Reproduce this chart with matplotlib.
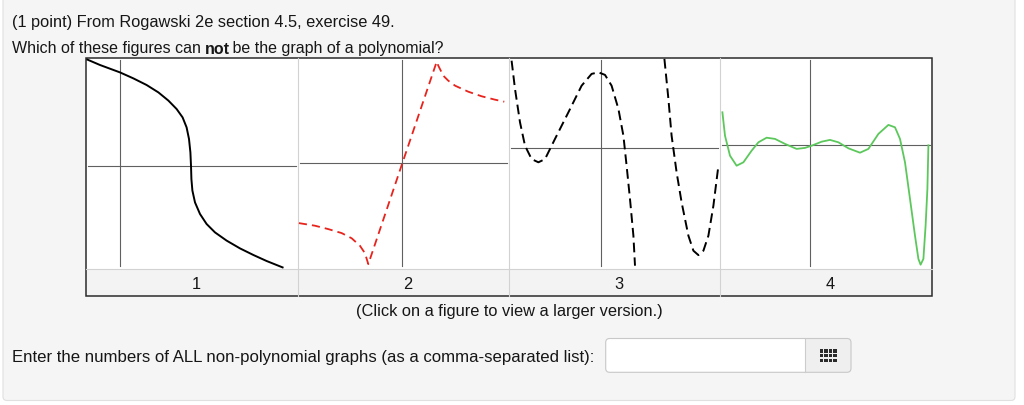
import matplotlib
matplotlib.use("Agg")
import matplotlib.pyplot as plt
from matplotlib.patches import Rectangle, FancyBboxPatch

# ---------------- data ----------------
title_line1 = "(1 point) From Rogawski 2e section 4.5, exercise 49."
title_line2_parts = [("Which of these figures can ", "normal"),
                     ("not", "bold"),
                     (" be the graph of a polynomial?", "normal")]
panel_labels = ["1", "2", "3", "4"]
caption = "(Click on a figure to view a larger version.)"
prompt = "Enter the numbers of ALL non-polynomial graphs (as a comma-separated list):"

# graph 1 (solid black)
g1_x = [-1.63, -1.0, 0.0, 0.67, 1.33, 1.92, 2.42, 2.83, 3.13, 3.33, 3.45, 3.52,
        3.55, 3.57, 3.62, 3.75, 4.0, 4.33, 4.75, 5.33, 6.0, 6.67, 7.33, 8.13]
g1_y = [5.32, 5.05, 4.68, 4.38, 4.05, 3.68, 3.27, 2.85, 2.43, 1.93, 1.35, 0.68,
        0.02, -0.65, -1.23, -1.82, -2.4, -2.9, -3.32, -3.73, -4.12, -4.45, -4.75, -5.07]

# graph 2 (red dashed)
g2_x = [-5.17, -4.37, -3.7, -3.03, -2.53, -2.12, -1.87, -1.7, 0.0, 1.72,
        1.8, 2.05, 2.3, 2.64, 3.3, 3.97, 4.64, 5.1]
g2_y = [-2.99, -3.12, -3.29, -3.49, -3.75, -4.12, -4.49, -5.04, 0.0, 5.08,
        4.88, 4.38, 4.13, 3.88, 3.58, 3.35, 3.18, 3.08]

# graph 3 (black dashed, two branches)
g3a_x = [-4.47, -4.3, -4.05, -3.8, -3.47, -3.13, -2.8, -2.3, -1.63, -0.97,
         -0.47, -0.13, 0.2, 0.53, 0.87, 1.12, 1.28, 1.45, 1.62, 1.7]
g3a_y = [4.38, 2.97, 1.3, 0.13, -0.54, -0.7, -0.54, 0.47, 1.8, 3.13,
         3.72, 3.8, 3.67, 3.13, 1.97, 0.63, -0.87, -2.54, -4.37, -5.87]
g3b_x = [3.17, 3.37, 3.53, 3.78, 4.03, 4.37, 4.62, 4.87, 5.12, 5.37, 5.62, 5.87]
g3b_y = [4.47, 2.47, 0.63, -1.2, -2.7, -4.37, -5.12, -5.34, -5.12, -4.37, -2.87, -0.87]

# graph 4 (green)
g4_x = [-4.38, -4.25, -4.0, -3.67, -3.33, -2.92, -2.58, -2.17, -1.75, -1.25,
        -0.67, -0.25, 0.08, 0.58, 1.0, 1.42, 1.92, 2.5, 2.92, 3.42, 3.92,
        4.25, 4.5, 4.75, 5.0, 5.25, 5.42, 5.53, 5.67, 5.78, 5.87, 5.92]
g4_y = [1.65, 0.48, -0.52, -1.02, -0.85, -0.27, 0.15, 0.38, 0.32, 0.07,
        -0.18, -0.13, -0.02, 0.18, 0.27, 0.15, -0.15, -0.37, -0.18, 0.57, 1.02,
        0.9, 0.32, -0.85, -2.68, -4.52, -5.68, -5.97, -5.68, -4.02, -2.18, 0.0]

# ---------------- layout ----------------
W, H = 1024, 406
fig = plt.figure(figsize=(W / 100, H / 100), dpi=100)
fig.patch.set_facecolor("white")
bg = fig.add_axes([0, 0, 1, 1])
bg.set_xlim(0, W)
bg.set_ylim(H, 0)
bg.axis("off")

FONT = "Liberation Sans"
TXT = "#161616"

# outer well
bg.add_patch(FancyBboxPatch((3, -10), 1012, 411.5,
                            boxstyle="round,pad=0,rounding_size=4",
                            fc="#f5f5f5", ec="#e0e0e0", lw=0.8))

# table
tx0, tx1, ty0, ty1, trow = 86, 932, 58.5, 297.3, 270
cells = [(86, 298), (298, 509), (509, 720), (720, 932)]
bg.add_patch(Rectangle((tx0, ty0), tx1 - tx0, trow - ty0, fc="white", ec="none"))
bg.add_patch(Rectangle((tx0, trow), tx1 - tx0, ty1 - trow, fc="#f3f3f3", ec="none"))
for (a, b) in cells[1:]:
    bg.plot([a, a], [ty0, ty1], color="#d2d2d2", lw=0.8)
bg.plot([tx0, tx1], [trow, trow], color="#d2d2d2", lw=0.8)
bg.add_patch(Rectangle((tx0, ty0), tx1 - tx0, ty1 - ty0, fc="none", ec="#2b2b2b", lw=1.1))

for (a, b), lab in zip(cells, panel_labels):
    bg.text((a + b) / 2 + 4, 285, lab, ha="center", va="center",
            fontsize=11.8, family=FONT, color=TXT)

# title texts
bg.text(12, 27, title_line1, ha="left", va="baseline", fontsize=11.8, family=FONT, color=TXT)
fig.canvas.draw()
r = fig.canvas.get_renderer()
x = 12
for s, w in title_line2_parts:
    t = bg.text(x, 53.5, s, ha="left", va="baseline", fontsize=11.5, family=FONT,
                color=TXT, fontweight=w)
    bb = t.get_window_extent(r)
    x += bb.width * W / fig.bbox.width
    if w == "bold":
        x -= 2.0

bg.text(509, 316, caption, ha="center", va="baseline", fontsize=11.8, family=FONT, color=TXT)
bg.text(12, 362, prompt, ha="left", va="baseline", fontsize=12.1, family=FONT, color=TXT)

# input box + button
bx0, bx1, by0, by1, bdiv = 605.7, 851, 339.5, 373.3, 805
bg.add_patch(FancyBboxPatch((bx0, by0), bx1 - bx0, by1 - by0,
                            boxstyle="round,pad=0,rounding_size=4", fc="white", ec="none"))
bg.add_patch(FancyBboxPatch((bdiv, by0), bx1 - bdiv, by1 - by0,
                            boxstyle="round,pad=0,rounding_size=4", fc="#efefef", ec="none"))
bg.add_patch(Rectangle((bdiv, by0), 6, by1 - by0, fc="#efefef", ec="none"))
bg.plot([bdiv, bdiv], [by0, by1], color="#cccccc", lw=0.8)
bg.add_patch(FancyBboxPatch((bx0, by0), bx1 - bx0, by1 - by0,
                            boxstyle="round,pad=0,rounding_size=4", fc="none",
                            ec="#c8c8c8", lw=0.8))
cx, cy = 828, 356.5
for i in range(4):
    for j in range(3):
        bg.add_patch(Rectangle((cx - 8.5 + i * 4.6, cy - 6.2 + j * 4.6), 3.4, 3.4,
                               fc="#2a2a2a", ec="none"))

# ---------------- graphs ----------------
origins = [(120, 167), (402.3, 164.3), (601, 149.3), (810, 146.3)]
S = 20.0
py0, py1 = 59, 270
axes = []
for (a, b), (ox, oy) in zip(cells, origins):
    ax = fig.add_axes([a / W, 1 - py1 / H, (b - a) / W, (py1 - py0) / H])
    ax.set_xlim((a - ox) / S, (b - ox) / S)
    ax.set_ylim((oy - py1) / S, (oy - py0) / S)
    ax.axis("off")
    ax.patch.set_alpha(0)
    ax.axhline(0, xmin=0.008, xmax=0.99, color="#606060", lw=0.8)
    ax.axvline(0, ymin=0.012, ymax=0.992, color="#606060", lw=0.8)
    axes.append(ax)

axes[0].plot(g1_x, g1_y, color="black", lw=1.4, solid_joinstyle="round")
axes[1].plot(g2_x, g2_y, color="#e8231c", lw=1.3, linestyle=(0, (4.5, 2.8)))
axes[2].plot(g3a_x, g3a_y, color="black", lw=1.4, linestyle=(0, (5.0, 2.6)))
axes[2].plot(g3b_x, g3b_y, color="black", lw=1.4, linestyle=(0, (5.0, 2.6)))
axes[3].plot(g4_x, g4_y, color="#5cc85c", lw=1.3, solid_joinstyle="round")

fig.savefig("out.png", dpi=100)
